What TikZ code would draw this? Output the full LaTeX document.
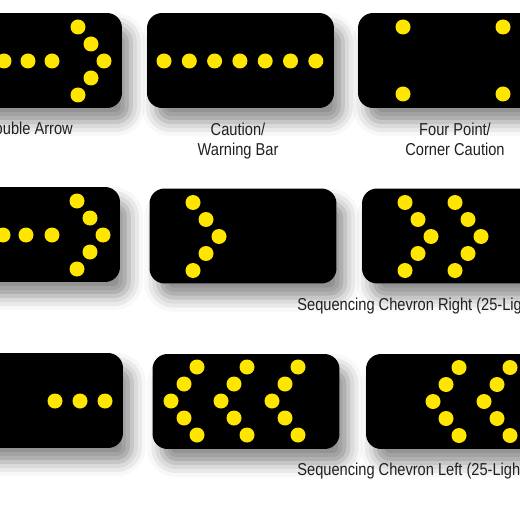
\documentclass[tikz,border=0pt]{standalone}
\usepackage{fontspec}
\newfontfamily\lblfont[FakeStretch=0.85]{Liberation Sans}
\usetikzlibrary{positioning, shadows.blur}
\definecolor{boardBlack}{HTML}{000000}
\definecolor{ledYellow}{HTML}{FFE600}
\definecolor{textDark}{HTML}{231F20}

\begin{document}
\begin{tikzpicture}[x=0.02cm, y=-0.02cm,
    board/.style={rectangle, rounded corners=0.3cm, fill=boardBlack,
      minimum width=3.74cm, minimum height=1.9cm, inner sep=0pt,
      blur shadow={shadow xshift=5pt, shadow yshift=-8pt,
        shadow blur radius=8pt, shadow opacity=45}},
    led/.style={fill=ledYellow},
    lb/.style={font=\lblfont\fontsize{9.8}{11.3}\selectfont, text=textDark,
      inner sep=0pt, align=center}]
    \useasboundingbox (0,0) rectangle (520,520);
    \clip (0,0) rectangle (520,520);
    % boards
    \node[board] (b11) at (28.5,60.5) {};
    \node[board] (b12) at (240.5,60.5) {};
    \node[board] (b13) at (451.5,60.5) {};
    \node[board] (b21) at (26.5,234.5) {};
    \node[board] (b22) at (243,236) {};
    \node[board] (b23) at (455.5,236) {};
    \node[board] (b31) at (29.5,400.5) {};
    \node[board] (b32) at (246,401.5) {};
    \node[board] (b33) at (459.5,401.5) {};
    % straight rows of lamps
    \foreach \x in {4,28,52} \fill[led] (\x,61) circle (7.5);
    \foreach \x in {3,26,52} \fill[led] (\x,235) circle (7.5);
    \foreach \x in {55,80,105} \fill[led] (\x,401) circle (7.5);
    \foreach \k in {0,...,6} \fill[led] (164+25.3*\k,61) circle (7.5);
    \foreach \x/\y in {403/27,503/27,403/94,503/94} \fill[led] (\x,\y) circle (7.5);
    % chevrons
    \foreach \x/\y in {78/61,77/235,193/236.5,405/236.5,455/236.5}
      \foreach \dx/\dy in {0/-34,13/-17,26/0,13/17,0/34}
        \fill[led] (\x+\dx,\y+\dy) circle (7.5);
    \foreach \x/\y in {171/401,221/401,272/401,433/401.5,484/401.5,535/401.5}
      \foreach \dx/\dy in {26/-34,13/-17,0/0,13/17,26/34}
        \fill[led] (\x+\dx,\y+\dy) circle (7.5);
    % labels
    \node[lb, anchor=base] (l11) at (28.5,135) {Double Arrow};
    \node[lb, anchor=base] (l12) at (238,155) {Caution/\\Warning Bar};
    \node[lb, anchor=base] (l13) at (455,155) {Four Point/\\Corner Caution};
    \node[lb, anchor=base west] (l2) at (297,310) {Sequencing Chevron Right (25-Light)};
    \node[lb, anchor=base west] (l3) at (297,475) {Sequencing Chevron Left (25-Light)};
  \end{tikzpicture}
\end{document}
